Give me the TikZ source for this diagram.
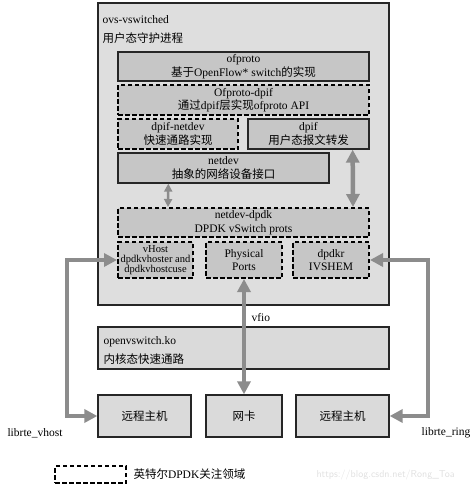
\documentclass[tikz,border=0pt]{standalone}
\usepackage{fontspec}
\setmainfont{Liberation Serif}
\newfontfamily\cjk{Noto Sans CJK SC}
\usetikzlibrary{arrows.meta, positioning, calc}
\newcommand{\zh}[1]{{\cjk #1}}
\definecolor{ovsbg}{HTML}{DEDEDE}
\definecolor{boxgray}{HTML}{C6C6C6}
\definecolor{lowgray}{HTML}{DADADA}
\definecolor{arrgray}{HTML}{8C8C8C}

\begin{document}
\begin{tikzpicture}[
    x=1pt, y=-1pt,
    font=\fontsize{11.5}{13.5}\selectfont,
    outerbox/.style={rectangle, draw=black!85, fill=ovsbg, line width=1.1pt, inner sep=0pt},
    solidbox/.style={rectangle, draw=black!85, fill=boxgray, line width=1.3pt, align=center, inner sep=0pt},
    dashbox/.style={rectangle, draw=black, fill=boxgray, line width=2pt, dash pattern=on 4.5pt off 2.5pt, align=center, inner sep=0pt},
    lowbox/.style={rectangle, draw=black!85, fill=lowgray, line width=1.3pt, align=center, inner sep=0pt},
    bigarr/.style={draw=arrgray, line width=4.5pt, >={Triangle[length=13pt,width=13pt]}},
    smallarr/.style={draw=arrgray, line width=2.5pt, >={Triangle[length=8pt,width=8pt]}}
]
\useasboundingbox (0,0) rectangle (474,488);

% user space daemon
\node[outerbox, minimum width=291, minimum height=302] (ovs) at (243.5,154) {};
\node[anchor=west] (ovsname) at (99,20) {ovs-vswitched};
\node[anchor=west] (ovsdesc) at (99,38) {\zh{用户态守护进程}};

\node[solidbox, minimum width=251, minimum height=29] (ofproto) at (243.5,66.5) {ofproto\\\zh{基于}OpenFlow* switch\zh{的实现}};
\node[dashbox, minimum width=251, minimum height=30] (ofdpif) at (243.5,100) {Ofproto-dpif\\\zh{通过}dpif\zh{层实现}ofproto API};
\node[dashbox, minimum width=120, minimum height=30] (dpifnetdev) at (178,134) {dpif-netdev\\\zh{快速通路实现}};
\node[solidbox, minimum width=121, minimum height=30] (dpif) at (308.5,134) {dpif\\\zh{用户态报文转发}};
\node[solidbox, minimum width=211, minimum height=30] (netdev) at (223.5,168) {netdev\\\zh{抽象的网络设备接口}};
\node[dashbox, minimum width=251, minimum height=29] (netdevdpdk) at (243.5,222.5) {netdev-dpdk\\DPDK vSwitch prots};
\node[dashbox, minimum width=75, minimum height=36, font=\fontsize{10.5}{10}\selectfont] (vhost) at (155.5,260) {vHost\\dpdkvhoster and\\dpdkvhostcuse};
\node[dashbox, minimum width=76, minimum height=36] (phys) at (244,260) {Physical\\Ports};
\node[dashbox, minimum width=76, minimum height=36] (dpdkr) at (331,260) {dpdkr\\IVSHEM};

% kernel module
\node[lowbox, minimum width=291, minimum height=42] (ovsko) at (243.5,348) {};
\node[anchor=west] (koname) at (100,342) {openvswitch.ko};
\node[anchor=west] (kodesc) at (100,359) {\zh{内核态快速通路}};

% hosts and nic
\node[lowbox, minimum width=93, minimum height=42] (host1) at (144.5,416) {\zh{远程主机}};
\node[lowbox, minimum width=76, minimum height=42] (nic) at (244,416) {\zh{网卡}};
\node[lowbox, minimum width=93, minimum height=42] (host2) at (342.5,416) {\zh{远程主机}};

% connectors
\draw[smallarr, <->] ($(netdev.south west)+(51,0)$) -- ($(netdevdpdk.north west)+(51,0)$);
\draw[bigarr, <->] ($(dpif.south east)+(-17,0)$) -- ($(netdevdpdk.north east)+(-17,0)$);
\draw[bigarr, <->] (phys.south) -- node[pos=0.33, right=2pt] {vfio} (nic.north);
\draw[bigarr, <->] (vhost.west) -- ++(-50,0) |- (host1.west);
\draw[bigarr, <->] (dpdkr.east) -- ++(58,0) |- (host2.east);
\node (vhostlbl) at (35,433) {librte\_vhost};
\node (ringlbl) at (446,433) {librte\_ring};

% legend
\node[dashbox, fill=none, minimum width=71, minimum height=17] (legend) at (90.5,474.5) {};
\node[right=3pt of legend] (legendtxt) {\zh{英特尔}DPDK\zh{关注领域}};
\node[anchor=west, text=black!12, font=\sffamily\fontsize{10}{12}\selectfont] (wm) at (313,475) {https://blog.csdn.net/Rong\_Toa};
\end{tikzpicture}
\end{document}
